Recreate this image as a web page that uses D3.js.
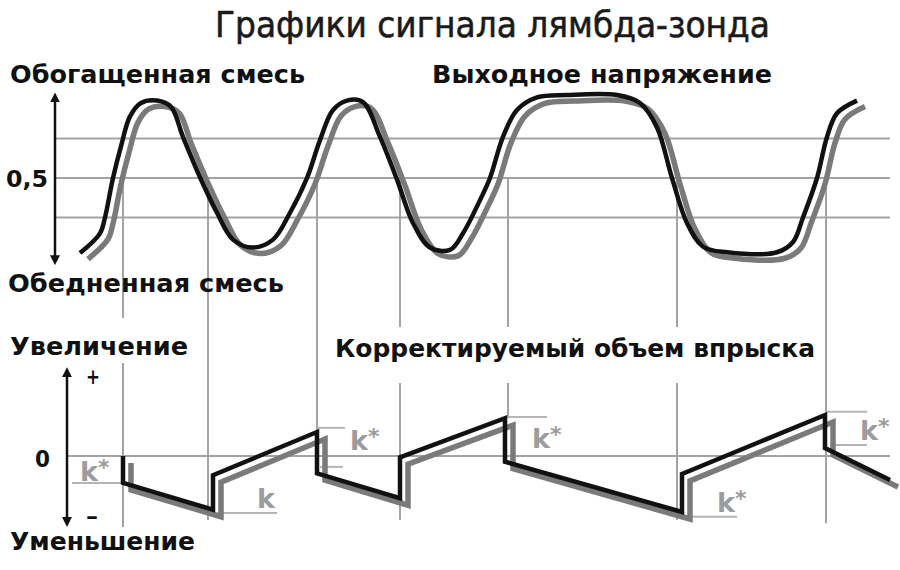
<!DOCTYPE html>
<html><head><meta charset="utf-8">
<script src="https://cdn.jsdelivr.net/npm/d3@7"></script>
<style>
html,body{margin:0;padding:0;background:#fff;}
text{font-family:"DejaVu Sans",Verdana,sans-serif;}
</style></head>
<body><svg id="c" width="900" height="570"></svg>
<script>
// ---- data ----
// lambda sensor output (time in ms, voltage in V)
const sensorTime = [25,45,50,58,66,75,86,102,116,128,145,162,178,198,218,235,252,265,278,292,308,325,342,358,375,395,408,425,435,448,462,482,512,562,585,602,617,632,648,672,722,738,748,762,772,782,802];
const sensorVolt = [0.025,0.15,0.25,0.5,0.7,0.89,0.975,0.99,0.95,0.76,0.505,0.28,0.11,0.06,0.11,0.28,0.5,0.74,0.93,0.99,0.98,0.76,0.49,0.215,0.06,0.045,0.15,0.36,0.5,0.76,0.93,1.01,1.025,1.025,0.975,0.82,0.5,0.215,0.065,0.03,0.03,0.095,0.25,0.5,0.76,0.91,0.99];
// corrected injection amount
const corrTime  = [68,68,158,158,262,262,345,345,450,450,627,627,770,770,835];
const corrValue = [0,-0.42,-0.84,-0.30,0.375,-0.27,-0.66,-0.02,0.59,-0.09,-0.875,-0.28,0.64,0.125,-0.375];
// switching moments (0,5 crossings) and where their guide lines end in lower panel
const switchTimes = [68,153,262,345,453,622,771];
const switchEnds  = [-1.11,-1.0,-0.17,-1.0,0.59,-1.0,-1.05];
const voltGrid = [0.25,0.5,0.75];
const voltTickLabels = ["0,5"];
// k / k* step annotations
const kText = ["k*","k","k*","k*","k*","k*"];
const kTextT = [25,202,295,477,662,805];
const kTextV = [-0.39,-0.81,0.094,0.125,-0.875,0.25];
const kLineT1 = [17,158,262,265,450,627,770,775];
const kLineT2 = [68,222,290,288,492,682,812,812];
const kLineV  = [-0.42,-0.89,0.44,-0.17,0.61,-0.95,0.69,0.17];

// ---- scales ----
const svg = d3.select("#c");
const x = d3.scaleLinear().domain([0,835]).range([55,890]);
const yTop = d3.scaleLinear().domain([0,1]).range([257,99]);
const yBot = d3.scaleLinear().domain([-1,1]).range([520,392]);

const GRID = "#a3a3a3", INK = "#111";

const defs = svg.append("defs");
defs.append("filter").attr("id","soft").append("feGaussianBlur").attr("stdDeviation",0.7);
defs.append("marker").attr("id","ah").attr("viewBox","0 0 10 10").attr("refX",5).attr("refY",5)
  .attr("markerWidth",4).attr("markerHeight",4).attr("orient","auto-start-reverse")
  .append("path").attr("d","M0,0L10,5L0,10z").attr("fill",INK);

// horizontal grid (top)
svg.append("g").selectAll("line").data(voltGrid).join("line")
  .attr("x1",x(0)).attr("x2",x(835)).attr("y1",d=>yTop(d)).attr("y2",d=>yTop(d))
  .attr("stroke",GRID).attr("stroke-width",2);
// zero line (bottom)
svg.append("line").attr("x1",x(12)).attr("x2",x(835)).attr("y1",yBot(0)).attr("y2",yBot(0))
  .attr("stroke",GRID).attr("stroke-width",2);
// switching guide lines
svg.append("g").selectAll("line").data(switchTimes).join("line")
  .attr("x1",d=>x(d)).attr("x2",d=>x(d)).attr("y1",yTop(0.5)).attr("y2",(d,i)=>yBot(switchEnds[i]))
  .attr("stroke",GRID).attr("stroke-width",2);
// k boxes
svg.append("g").selectAll("line").data(kLineV).join("line")
  .attr("x1",(d,i)=>x(kLineT1[i])).attr("x2",(d,i)=>x(kLineT2[i]))
  .attr("y1",d=>yBot(d)).attr("y2",d=>yBot(d))
  .attr("stroke","#b5b5b5").attr("stroke-width",2);

// white boxes behind lower labels
svg.append("rect").attr("x",5).attr("y",318).attr("width",190).attr("height",45).attr("fill","#fff");
svg.append("rect").attr("x",330).attr("y",327).attr("width",490).attr("height",56).attr("fill","#fff");

// sensor curve with shadow
const lineTop = d3.line().x(d=>x(d[0])).y(d=>yTop(d[1])).curve(d3.curveCatmullRom.alpha(0.5));
const sensorPts = sensorTime.map((t,i)=>[t,sensorVolt[i]]);
svg.append("path").attr("d",lineTop(sensorPts)).attr("transform","translate(8,6)")
  .attr("fill","none").attr("stroke","#7a7a7a").attr("stroke-width",5.5).attr("filter","url(#soft)");
svg.append("path").attr("d",lineTop(sensorPts)).attr("fill","none").attr("stroke",INK).attr("stroke-width",4.5);

// correction sawtooth with shadow
const lineBot = d3.line().x(d=>x(d[0])).y(d=>yBot(d[1]));
const corrPts = corrTime.map((t,i)=>[t,corrValue[i]]);
svg.append("path").attr("d",lineBot(corrPts)).attr("transform","translate(8,7)")
  .attr("fill","none").attr("stroke","#7a7a7a").attr("stroke-width",5.5).attr("filter","url(#soft)");
svg.append("path").attr("d",lineBot(corrPts)).attr("fill","none").attr("stroke",INK).attr("stroke-width",4.5)
  .attr("stroke-linejoin","miter");

// axes with arrows
svg.append("line").attr("x1",x(0)).attr("x2",x(0)).attr("y1",yTop(1.01)).attr("y2",yTop(-0.02))
  .attr("stroke",INK).attr("stroke-width",2.5).attr("marker-start","url(#ah)").attr("marker-end","url(#ah)");
svg.append("line").attr("x1",x(12)).attr("x2",x(12)).attr("y1",yBot(1.31)).attr("y2",yBot(-1.03))
  .attr("stroke",INK).attr("stroke-width",2.5).attr("marker-start","url(#ah)").attr("marker-end","url(#ah)");

// k labels
const kg = svg.append("g").attr("fill","#9c9c9c").attr("font-size",27).attr("font-weight","bold");
kText.forEach((s,i)=>{
  const t = kg.append("text").attr("x",x(kTextT[i])).attr("y",yBot(kTextV[i]));
  t.append("tspan").text("k");
  if (s.length>1) t.append("tspan").attr("dy",-6).attr("font-size",22).text("*");
});

// texts
function label(txt,x0,y0,size,len,weight,fill){
  return svg.append("text").attr("x",x0).attr("y",y0).attr("font-size",size)
    .attr("font-weight",weight||"bold").attr("fill",fill||INK)
    .attr("textLength",len).attr("lengthAdjust","spacingAndGlyphs").text(txt);
}
label("Графики сигнала лямбда-зонда",215,37,36,555,"normal","#1a1a1a").attr("stroke","#1a1a1a").attr("stroke-width",0.6);
label("Обогащенная смесь",10,83,24,295);
label("Выходное напряжение",432,83,24,340);
label(voltTickLabels[0],6,187,23,42);
label("Обедненная смесь",8,292,24,276);
label("Увеличение",10,355,24,178);
label("Корректируемый объем впрыска",335,357,24,480);
label("Уменьшение",10,550,24,185);
label("0",35,467,23,15);
label("+",86,384,22,14);
label("–",86,524,22,12);
</script></body></html>
